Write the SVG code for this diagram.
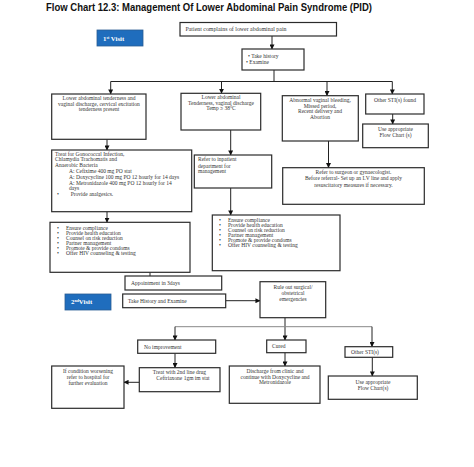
<svg xmlns="http://www.w3.org/2000/svg" width="474" height="467" viewBox="0 0 474 467">
<defs>
<marker id="ah" viewBox="0 0 6 6" refX="5.5" refY="3" markerWidth="5" markerHeight="5" orient="auto" markerUnits="userSpaceOnUse">
<path d="M0,0 L6,3 L0,6 z" fill="#111"/>
</marker>
</defs>
<style>
rect.b{fill:#fff;stroke:#2b2b2b;stroke-width:1.2}
rect.v{fill:#1f6dbd;stroke:#2a5c93;stroke-width:0.8}
text{font-family:"Liberation Serif","Times New Roman",serif;font-size:5.5px;fill:#333}
text.c{text-anchor:middle}
text.t{font-family:"Liberation Sans",Arial,sans-serif;font-size:11px;font-weight:bold;fill:#111}
text.w{fill:#fff;font-weight:bold;font-size:6.8px}
.ln{stroke:#222;stroke-width:1;fill:none}
.la{stroke:#222;stroke-width:1;fill:none;marker-end:url(#ah)}
.lg{stroke:#888;stroke-width:1;fill:none}
</style>
<rect width="474" height="467" fill="#fff"/>
<text class="t" x="46" y="11" textLength="326" lengthAdjust="spacingAndGlyphs">Flow Chart 12.3: Management Of Lower Abdominal Pain Syndrome (PID)</text>

<g id="connectors">
<line class="la" x1="272" y1="36" x2="272" y2="49"/>
<line class="ln" x1="274" y1="70" x2="274" y2="81.5"/>
<line class="ln" x1="110.7" y1="81.5" x2="392.3" y2="81.5"/>
<line class="la" x1="110.7" y1="81.5" x2="110.7" y2="94"/>
<line class="la" x1="221.5" y1="81.5" x2="221.5" y2="93.3"/>
<line class="la" x1="327" y1="81.5" x2="327" y2="95.7"/>
<line class="la" x1="392.3" y1="81.5" x2="392.3" y2="94"/>
<line class="la" x1="392.7" y1="114" x2="392.7" y2="124"/>
<line class="la" x1="107" y1="139.3" x2="107" y2="150"/>
<line class="la" x1="230.7" y1="130" x2="230.7" y2="155"/>
<line class="la" x1="328.5" y1="141" x2="328.5" y2="167.7"/>
<line class="la" x1="107" y1="211.7" x2="107" y2="222.3"/>
<line class="la" x1="230.7" y1="188" x2="230.7" y2="215"/>
<line class="ln" x1="150" y1="272.3" x2="150" y2="276"/>
<line class="la" x1="225.7" y1="300.7" x2="260" y2="300.7"/>
<line class="la" x1="285" y1="317.7" x2="285" y2="340"/>
<line class="lg" x1="175" y1="326.7" x2="372" y2="326.7"/>
<line class="la" x1="175" y1="326.7" x2="175" y2="340"/>
<line class="la" x1="372" y1="326.7" x2="372" y2="346.7"/>
<line class="la" x1="372.3" y1="357.3" x2="372.3" y2="376"/>
<line class="la" x1="175" y1="353.3" x2="175" y2="367.7"/>
<line class="la" x1="139.3" y1="382.3" x2="124" y2="382.3"/>
<line class="la" x1="285" y1="352.7" x2="285" y2="366"/>
</g>

<g id="visit1"><rect class="v" x="97" y="30" width="46" height="16"/><text class="w" x="103" y="40.5">1<tspan font-size="4" dy="-2">st</tspan><tspan dy="2"> Visit</tspan></text></g>

<g id="patient"><rect class="b" x="180" y="22.5" width="156.5" height="13.5"/><text x="185.5" y="30.5" textLength="101" lengthAdjust="spacingAndGlyphs">Patient complains of lower abdominal pain</text></g>

<g id="history1"><rect class="b" x="242" y="49" width="62" height="21"/><text x="248" y="57.5">•  Take history</text><text x="246" y="63.5">• Examine</text></g>

<g id="lowerTender"><rect class="b" x="51.7" y="94" width="94.3" height="45.3"/>
<text class="c" x="99" y="100">Lower abdominal tenderness and</text>
<text class="c" x="99" y="105.5">vaginal discharge, cervical excitation</text>
<text class="c" x="99" y="111">tenderness present</text></g>

<g id="lowerTemp"><rect class="b" x="181" y="93.3" width="79.7" height="36.7"/>
<text class="c" x="221" y="99">Lower abdominal</text>
<text class="c" x="221" y="104.5">Tenderness, vaginal discharge</text>
<text class="c" x="221" y="110">Temp ≥ 38°C</text></g>

<g id="abnormal"><rect class="b" x="282.3" y="95.7" width="76" height="45.3"/>
<text class="c" x="320" y="101.5">Abnormal vaginal bleeding,</text>
<text class="c" x="320" y="107.5">Missed period,</text>
<text class="c" x="320" y="113">Recent delivery and</text>
<text class="c" x="320" y="119">Abortion</text></g>

<g id="otherSti1"><rect class="b" x="365.7" y="94" width="58.3" height="20"/><text class="c" x="395" y="101.5">Other STI(s) found</text></g>

<g id="useFlow1"><rect class="b" x="362.7" y="124" width="65.6" height="23.7"/>
<text class="c" x="395.5" y="130.5">Use appropriate</text><text class="c" x="395.5" y="137">Flow Chart (s)</text></g>

<g id="treat1"><rect class="b" x="51.7" y="150" width="140" height="61.7"/>
<text x="55" y="155.5">Treat for Gonococcal Infection,</text>
<text x="55" y="161">Chlamydia Trachomatis and</text>
<text x="55" y="167" font-size="6">Anaerobic Bacteria</text>
<text x="69" y="173">A: Cefixime 400 mg PO stat</text>
<text x="69" y="179">A: Doxycycline 100 mg PO 12 hourly for 14 days</text>
<text x="69" y="184.5">A: Metronidazole 400 mg PO 12 hourly for 14</text>
<text x="69" y="190">days</text>
<text x="57" y="196">•</text><text x="70.7" y="196">Provide analgesics.</text></g>

<g id="referInpatient"><rect class="b" x="194.3" y="155" width="77.4" height="33"/>
<text x="198" y="161">Refer to inpatient</text>
<text x="198" y="167.5" font-size="6">department for</text>
<text x="198" y="173">management</text></g>

<g id="referSurgeon"><rect class="b" x="282.7" y="167.7" width="141.6" height="36.6"/>
<text class="c" x="353.5" y="174">Refer to surgeon or gynaecologist.</text>
<text class="c" x="353.5" y="180">Before referral- Set up an I.V line and apply</text>
<text class="c" x="353.5" y="186.5">resuscitatory measures if necessary.</text></g>

<g id="ensureLeft"><rect class="b" x="50" y="222.3" width="140" height="50"/>
<text x="57" y="229.5">•</text><text x="66" y="229.5">Ensure compliance</text>
<text x="57" y="234.5">•</text><text x="66" y="234.5">Provide health education</text>
<text x="57" y="239.5">•</text><text x="66" y="239.5">Counsel on risk reduction</text>
<text x="57" y="244.5">•</text><text x="66" y="244.5">Partner management</text>
<text x="57" y="249.5">•</text><text x="66" y="249.5">Promote &amp; provide condoms</text>
<text x="57" y="254.5">•</text><text x="66" y="254.5">Offer HIV counseling &amp; testing</text></g>

<g id="ensureRight"><rect class="b" x="212.3" y="215" width="127.7" height="55.7"/>
<text x="219" y="222">•</text><text x="228" y="222">Ensure compliance</text>
<text x="219" y="227">•</text><text x="228" y="227">Provide health education</text>
<text x="219" y="232">•</text><text x="228" y="232">Counsel on risk reduction</text>
<text x="219" y="237">•</text><text x="228" y="237">Partner management</text>
<text x="219" y="242">•</text><text x="228" y="242">Promote &amp; provide condoms</text>
<text x="219" y="247">•</text><text x="228" y="247">Offer HIV counseling &amp; testing</text></g>

<g id="appointment"><rect class="b" x="125" y="276" width="96.7" height="14"/><text x="131" y="284.5">Appointment in 3days</text></g>

<g id="visit2"><rect class="v" x="65" y="294" width="46" height="16"/><text class="w" x="71" y="304">2<tspan font-size="4" dy="-2">nd</tspan><tspan dy="2">Visit</tspan></text></g>

<g id="history2"><rect class="b" x="122.7" y="294" width="103" height="13.7"/><text x="128" y="302.5">Take History and Examine</text></g>

<g id="ruleOut"><rect class="b" x="260" y="281.7" width="65.7" height="36"/>
<text class="c" x="293" y="288.5">Rule out surgical/</text>
<text class="c" x="293" y="294.5">obstetrical</text>
<text class="c" x="293" y="300.5">emergencies</text></g>

<g id="noImprovement"><rect class="b" x="137.7" y="340" width="78" height="13.3"/><text x="144" y="348.5">No improvement</text></g>

<g id="cured"><rect class="b" x="266.7" y="340" width="39.3" height="12.7"/><text x="272" y="347.5">Cured</text></g>

<g id="otherSti2"><rect class="b" x="345" y="346.7" width="47.7" height="10.6"/><text x="351" y="353.7">Other STI(s)</text></g>

<g id="treat2"><rect class="b" x="139.3" y="367.7" width="80.7" height="24"/>
<text class="c" x="179.5" y="374">Treat with 2nd line drug</text>
<text class="c" x="183" y="379.5">Ceftriaxone 1gm im stat</text></g>

<g id="worsening"><rect class="b" x="51.7" y="366" width="72.3" height="42.3"/>
<text class="c" x="88" y="372.5">If condition worsening</text>
<text class="c" x="88" y="378.5">refer to hospital for</text>
<text class="c" x="88" y="384.5">further evaluation</text></g>

<g id="discharge"><rect class="b" x="229.3" y="366" width="90.7" height="37.3"/>
<text class="c" x="275" y="373">Discharge from clinic and</text>
<text class="c" x="275" y="378.5">continue with Doxycycline and</text>
<text class="c" x="275" y="384">Metronidazole</text></g>

<g id="useFlow2"><rect class="b" x="328.3" y="376" width="89" height="23.3"/>
<text class="c" x="373" y="383.5">Use appropriate</text><text class="c" x="373" y="389.5">Flow Chart(s)</text></g>
</svg>
